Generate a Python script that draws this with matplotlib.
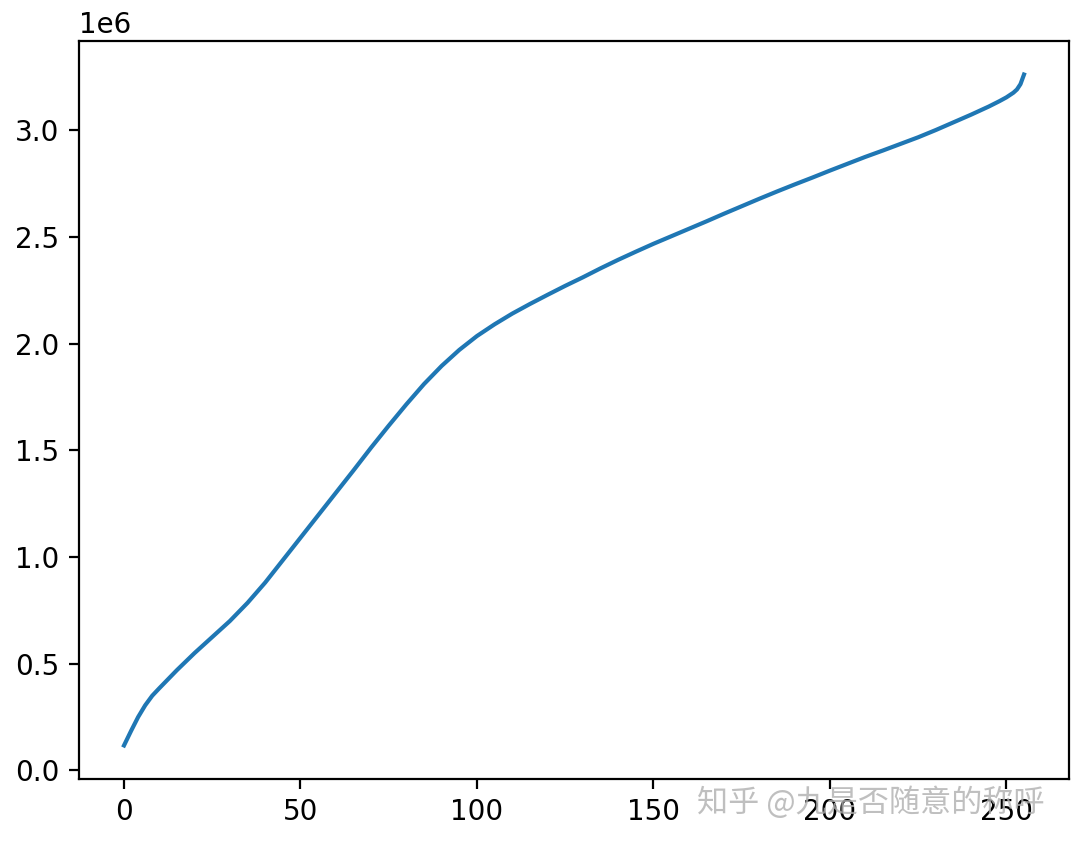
import matplotlib.pyplot as plt

# cumulative pixel counts (x = grey level)
levels = [0, 2, 4, 6, 8, 10, 15, 20, 25, 30, 35, 40, 45, 50, 55, 60, 65, 70, 75,
          80, 85, 90, 95, 100, 105, 110, 115, 120, 125, 130, 135, 140, 145, 150,
          155, 160, 165, 170, 175, 180, 185, 190, 195, 200, 205, 210, 215, 220,
          225, 230, 235, 240, 245, 248, 250, 252, 253, 254, 255]
cum_counts = [0.117, 0.185, 0.25, 0.305, 0.35, 0.385, 0.47, 0.55, 0.625, 0.70,
              0.785, 0.88, 0.985, 1.09, 1.195, 1.30, 1.405, 1.512, 1.615, 1.715,
              1.81, 1.895, 1.97, 2.035, 2.09, 2.14, 2.185, 2.228, 2.27, 2.31,
              2.352, 2.392, 2.43, 2.467, 2.502, 2.537, 2.572, 2.608, 2.643, 2.678,
              2.712, 2.745, 2.777, 2.81, 2.842, 2.874, 2.904, 2.935, 2.966, 3.0,
              3.036, 3.072, 3.11, 3.135, 3.153, 3.175, 3.19, 3.215, 3.26]

fig = plt.figure(figsize=(1079 / 200, 848 / 200), dpi=200)
ax = fig.add_axes([79 / 1079, 69 / 848, 990 / 1079, 738 / 848])
ax.plot(levels, [v * 1e6 for v in cum_counts])

# watermark
fig.text(0.646, 0.053, '知乎 @九是否随意的称呼', fontsize=11.2, color='#b0b0b0',
         alpha=0.8, va='center', family=['Noto Sans CJK SC', 'DejaVu Sans'])

fig.savefig('out.png', dpi=200)
